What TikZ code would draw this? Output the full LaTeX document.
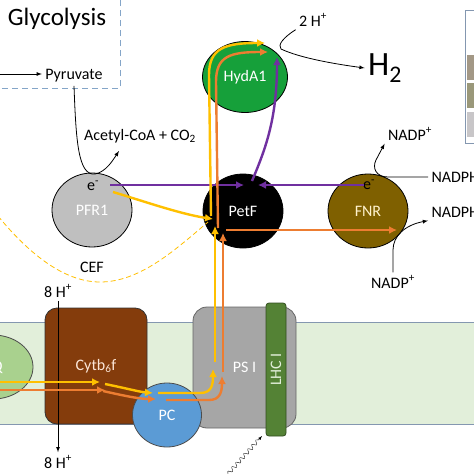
\documentclass[tikz,border=0pt]{standalone}
\usepackage{fontspec}
\setmainfont{Carlito}
\usetikzlibrary{shapes.geometric,decorations.pathmorphing,arrows.meta}
\definecolor{ylw}{RGB}{255,192,0}
\definecolor{org}{RGB}{237,125,49}
\definecolor{prp}{RGB}{112,48,160}
\definecolor{hydc}{RGB}{22,160,58}
\definecolor{fnrc}{RGB}{127,96,0}
\definecolor{cytc}{RGB}{132,60,12}
\definecolor{pcc}{RGB}{91,155,213}
\definecolor{lhcc}{RGB}{84,130,53}
\definecolor{pqc}{RGB}{169,209,142}
\definecolor{psc}{RGB}{166,166,166}
\definecolor{memc}{RGB}{226,239,218}
\definecolor{memline}{RGB}{132,151,176}
\definecolor{glycc}{RGB}{132,165,200}
\definecolor{cream}{RGB}{255,242,204}
\definecolor{creamb}{RGB}{251,229,214}
\definecolor{bandA}{RGB}{163,152,134}
\definecolor{bandB}{RGB}{154,152,122}
\definecolor{bandC}{RGB}{200,198,200}

\begin{document}
\begin{tikzpicture}[x=1pt,y=-1pt,>=latex,
  txt/.style={font=\fontsize{16}{19}\selectfont},
  prot/.style={ellipse,draw=black,thick,inner sep=0pt,minimum width=80pt,minimum height=74pt,
    font=\fontsize{16}{19}\selectfont,text=white},
  cplx/.style={draw=black!80,thick,inner sep=0pt,font=\fontsize{16}{19}\selectfont},
  eflow/.style={line width=2.4pt,-{Latex[length=8pt,width=8pt]}},
  yel/.style={eflow,draw=ylw},
  ora/.style={eflow,draw=org},
  pur/.style={eflow,draw=prp}]
\clip (0,0) rectangle (474,474);
\fill[white] (0,0) rectangle (474,474);

% membrane
\fill[memc] (-5,322) rectangle (480,424);
\draw[memline,thick] (-5,322) -- (480,322) (-5,424) -- (480,424);

% glycolysis box
\draw[glycc,thick,dash pattern=on 6pt off 4pt] (-5,-5) rectangle (120,88);
\node[font=\fontsize{25}{30}\selectfont] (glyc) at (57,19) {Glycolysis};
\node[txt] (pyr) at (74,76) {Pyruvate};
\coordinate (gin) at (-5,74);
\draw[thick,->] (gin) -- (pyr.west |- gin);

% legend (cut off)
\draw[memline] (480,10) -- (465,10) -- (465,143) -- (480,143);
\fill[bandA] (467,55) rectangle (480,80);
\fill[bandB] (467,83) rectangle (480,108);
\fill[bandC] (467,112) rectangle (480,137);

% soluble proteins
\node[prot,fill=black!25] (pfr) at (92,210) {PFR1};
\node[prot,fill=black] (petf) at (243,211) {PetF};
\node[prot,fill=fnrc,text=cream] (fnr) at (368,211) {FNR};
\node[prot,fill=hydc,minimum width=85pt,minimum height=71pt] (hyd) at (245,77) {HydA1};
\node[txt] (epfr) at (93,186) {e\textsuperscript{-}};
\node[txt] (efnr) at (369,185) {e\textsuperscript{-}};

% membrane complexes
\node[prot,fill=pqc,draw=black!70,minimum width=80pt,minimum height=64pt] (pq) at (-7,367) {PQ};
\node[cplx,fill=cytc,rounded corners=12pt,minimum width=102pt,minimum height=116pt,text=creamb] (cytb) at (96,366) {Cytb\textsubscript{6}f};
\node[cplx,fill=psc,draw=black!60,rounded corners=14pt,minimum width=103pt,minimum height=121pt,text=white] (psi) at (244.5,367.5) {PS I};
\node[cplx,fill=lhcc,draw=lhcc!60!black,rounded corners=3pt,rotate=90,minimum width=133pt,minimum height=20pt,text=memc] (lhc) at (276,369.5) {LHC I};
\node[prot,fill=pcc,draw=black!70,minimum width=69pt,minimum height=64pt] (pc) at (167,415) {PC};

% labels
\node[txt] (acoa) at (140,136) {Acetyl-CoA + CO\textsubscript{2}};
\node[txt] (twoh) at (313,20) {2 H\textsuperscript{+}};
\node[font=\fontsize{34}{40}\selectfont] (htwo) at (385,68) {H\textsubscript{2}};
\node[txt] (nadpA) at (410,134) {NADP\textsuperscript{+}};
\node[txt,anchor=west] (nadphA) at (428,177) {NADPH};
\node[txt,anchor=west] (nadphB) at (428,212) {NADPH};
\node[txt] (nadpB) at (393,282) {NADP\textsuperscript{+}};
\node[txt] (cef) at (92,267) {CEF};
\node[txt] (hin) at (58,291) {8 H\textsuperscript{+}};
\node[txt] (hout) at (58,462) {8 H\textsuperscript{+}};

% black connectors
\coordinate (acin) at (119,151);
\draw[thick,->] (pyr.south) .. controls (76,140) and (78,176) .. (95,174) .. controls (106,172) and (113,160) .. (acin);
\draw[thick,->] (twoh.south west) .. controls (284,37) and (277,45) .. (281,49) .. controls (300,58) and (335,64) .. (htwo.west);
\draw[thick,->] (nadphA.west) -- (388,177) .. controls (376,177) and (372,168) .. (376,160) -- (nadpA.south west);
\draw[thick,->] (nadpB.north) -- (393,250) .. controls (393,236) and (405,225) .. (nadphB.south west);
\draw[thick,->] (hin.south) -- (hout.north);
\coordinate (light) at (228,474);
\coordinate (lhcin) at (262,436);
\draw[->,decorate,decoration={snake,amplitude=2pt,segment length=6pt,post length=5pt}] (light) -- (lhcin);

% cyclic flow
\coordinate (cefA) at (-2,216);
\coordinate (cefB) at (208,222);
\draw[ylw,thick,dash pattern=on 5pt off 3pt] (cefA) .. controls (30,255) and (65,282) .. (100,282) .. controls (140,282) and (175,250) .. (cefB);

% electron flows to PetF
\coordinate (pfrY) at (113,192);
\coordinate (pfrP) at (110,185);
\coordinate (fnrP) at (364,185);
\coordinate (petfYa) at (213,219);
\coordinate (petfPa) at (244,185);
\coordinate (petfPb) at (258,185);
\draw[yel] (pfrY) .. controls (140,200) and (180,214) .. (petfYa);
\draw[pur] (pfrP) -- (petfPa);
\draw[pur] (fnrP) -- (petfPb);

% membrane electron flows
\coordinate (pqY) at (-5,382);
\coordinate (pqO) at (-5,390);
\coordinate (cytY) at (100,382);
\coordinate (cytO) at (105,390);
\draw[yel] (pqY) -- (cytY);
\draw[ora] (pqO) -- (cytO);
\coordinate (pcY) at (153,393);
\coordinate (pcO) at (156,399);
\draw[yel] (105,384) .. controls (125,388) and (140,392) .. (pcY);
\draw[ora] (103,391) .. controls (125,396) and (140,399) .. (pcO);
\coordinate (psiY) at (213,369);
\coordinate (psiO) at (222,376);
\draw[yel] (158,393) -- (200,393) .. controls (211,393) and (213,386) .. (psiY);
\draw[ora] (166,400) -- (209,400) .. controls (220,400) and (222,392) .. (psiO);
\coordinate (petfYb) at (215,226);
\coordinate (petfO) at (223,233);
\draw[yel] (215,362) -- (petfYb);
\draw[ora] (223,372) -- (petfO);

% PetF to HydA1 and FNR
\coordinate (hydY) at (265,43);
\coordinate (hydO) at (268,52);
\coordinate (hydP) at (277,57);
\coordinate (fnrO) at (397,230);
\draw[yel] (211,216) -- (209,75) .. controls (209,48) and (225,43) .. (hydY);
\draw[ora] (218,228) -- (216,82) .. controls (216,56) and (230,52) .. (hydO);
\draw[ora] (226,230) -- (fnrO);
\draw[pur] (252,181) .. controls (265,150) and (277,120) .. (hydP);
\end{tikzpicture}
\end{document}
